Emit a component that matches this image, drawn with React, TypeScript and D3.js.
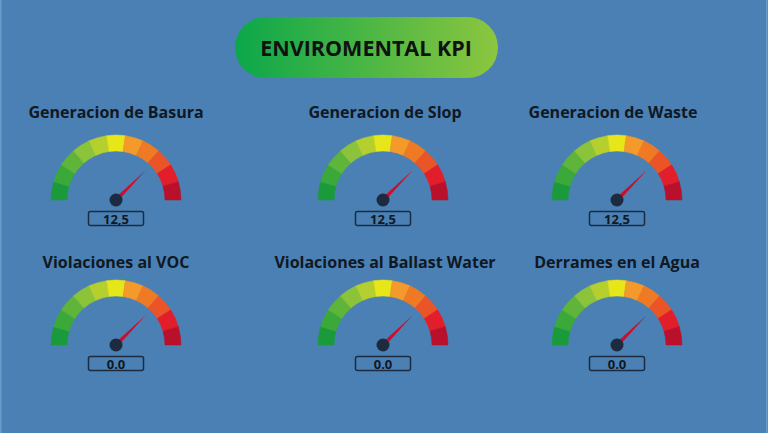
import React, { useEffect, useRef } from "react";
import * as d3 from "d3";

const titles = [
  "Generacion de Basura",
  "Generacion de Slop",
  "Generacion de Waste",
  "Violaciones al VOC",
  "Violaciones al Ballast Water",
  "Derrames en el Agua",
];
const valueLabels = ["12,5", "12,5", "12,5", "0.0", "0.0", "0.0"];
const needleValues = [75, 75, 75, 75, 75, 75];
const segmentColors = [
  "#1b9a3b",
  "#3ba93a",
  "#5eb53a",
  "#8bc33b",
  "#b5cf2e",
  "#e7e619",
  "#f49a2b",
  "#f07a23",
  "#ea5427",
  "#e31e2b",
  "#b9112b",
];

const W = 768;
const H = 433;

const App = () => {
  const svgRef = useRef(null);

  useEffect(() => {
    const svg = d3.select(svgRef.current);
    svg.selectAll("*").remove();

    svg.append("rect").attr("width", W).attr("height", H).attr("fill", "#4a80b4");
    // thin lighter edges on the sides
    svg.append("rect").attr("x", 0).attr("y", 0).attr("width", 1.5).attr("height", H).attr("fill", "#6a9ccb");
    svg.append("rect").attr("x", W - 2).attr("y", 0).attr("width", 1.5).attr("height", H).attr("fill", "#6a9ccb");

    // title pill
    const defs = svg.append("defs");
    const grad = defs.append("linearGradient").attr("id", "pill");
    grad.append("stop").attr("offset", "0%").attr("stop-color", "#0ba74a");
    grad.append("stop").attr("offset", "100%").attr("stop-color", "#8cc63f");
    svg
      .append("rect")
      .attr("x", 235)
      .attr("y", 17)
      .attr("width", 263)
      .attr("height", 61)
      .attr("rx", 30.5)
      .attr("fill", "url(#pill)");
    svg
      .append("text")
      .attr("x", 366)
      .attr("y", 55.5)
      .attr("text-anchor", "middle")
      .attr("font-family", "'Open Sans', sans-serif")
      .attr("font-weight", 700)
      .attr("font-size", 21.5)
      .attr("fill", "#111")
      .text("ENVIROMENTAL KPI");

    const cols = [116, 383, 617];
    const rows = [200, 345];
    const titleY = [117.5, 268];
    const titleX = [116, 385, 613, 116, 385, 617];

    const angle = d3.scaleLinear().domain([0, 100]).range([-Math.PI / 2, Math.PI / 2]);
    const seg = d3
      .scaleLinear()
      .domain([0, segmentColors.length])
      .range([-Math.PI / 2, Math.PI / 2]);
    const arc = d3.arc().innerRadius(49).outerRadius(65);

    titles.forEach((t, i) => {
      const r = Math.floor(i / 3);
      const cx = cols[i % 3];
      const cy = rows[r];
      const g = svg.append("g").attr("transform", `translate(${cx},${cy})`);

      svg
        .append("text")
        .attr("x", titleX[i])
        .attr("y", titleY[r])
        .attr("text-anchor", "middle")
        .attr("font-family", "'Open Sans', sans-serif")
        .attr("font-weight", 700)
        .attr("font-size", 16)
        .attr("fill", "#101822")
        .text(t);

      g.selectAll("path.seg")
        .data(segmentColors)
        .enter()
        .append("path")
        .attr("class", "seg")
        .attr("d", (_d, k) => arc({ startAngle: seg(k), endAngle: seg(k + 1) }))
        .attr("fill", (d) => d)
        .attr("stroke", (d) => d)
        .attr("stroke-width", 0.5);

      // needle
      const a = angle(needleValues[i]);
      const len = 42;
      const bw = 2.2;
      const tip = [Math.sin(a) * len, -Math.cos(a) * len];
      const p1 = [Math.cos(a) * bw, Math.sin(a) * bw];
      const p2 = [-Math.cos(a) * bw, -Math.sin(a) * bw];
      g.append("path")
        .attr("d", `M${p1[0]},${p1[1]}L${tip[0]},${tip[1]}L${p2[0]},${p2[1]}Z`)
        .attr("fill", "#c8102e");
      g.append("circle").attr("r", 6.5).attr("fill", "#1c2b3f");

      g.append("rect")
        .attr("x", -27.5)
        .attr("y", 11.5)
        .attr("width", 55)
        .attr("height", 14)
        .attr("rx", 2)
        .attr("fill", "none")
        .attr("stroke", "#1c2b3f")
        .attr("stroke-width", 1.5);
      g.append("text")
        .attr("x", 0)
        .attr("y", 23.5)
        .attr("text-anchor", "middle")
        .attr("font-family", "'Open Sans', sans-serif")
        .attr("font-weight", 700)
        .attr("font-size", 13)
        .attr("fill", "#101822")
        .text(valueLabels[i]);
    });
  }, []);

  return (
    <svg
      ref={svgRef}
      width={W}
      height={H}
      style={{ position: "fixed", left: 0, top: 0, display: "block" }}
    />
  );
};

export default App;
